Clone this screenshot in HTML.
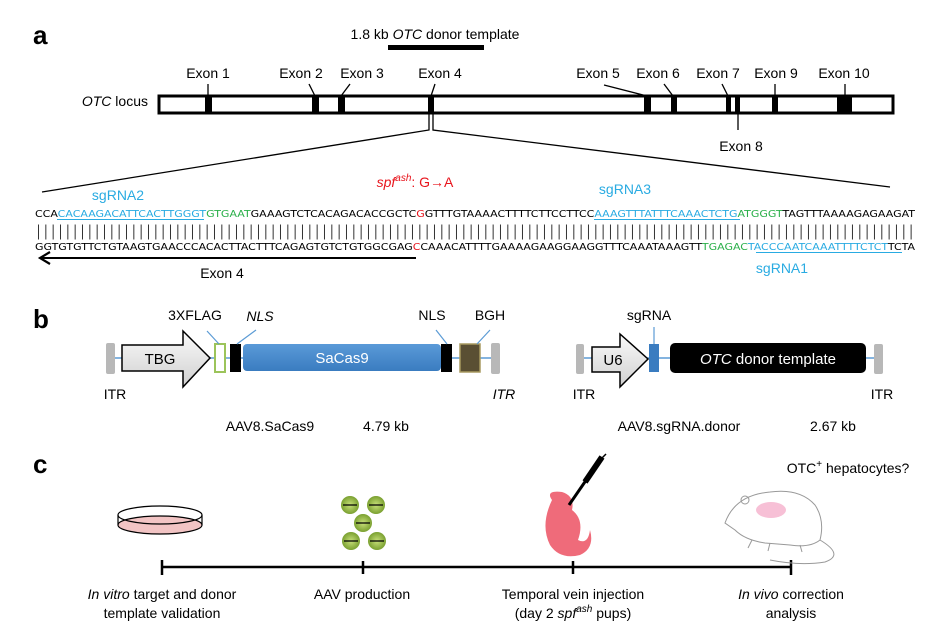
<!DOCTYPE html>
<html><head><meta charset="utf-8"><style>
html,body{margin:0;padding:0;background:#fff;}
svg{display:block;font-family:"Liberation Sans",Arial,sans-serif;}
</style></head><body>
<svg width="929" height="643" viewBox="0 0 929 643" xmlns="http://www.w3.org/2000/svg">
<defs>
<linearGradient id="ag" x1="0" y1="0" x2="0" y2="1"><stop offset="0" stop-color="#fafafa"/><stop offset="1" stop-color="#d0d0d0"/></linearGradient>
<linearGradient id="bg" x1="0" y1="0" x2="0" y2="1"><stop offset="0" stop-color="#5a9ad8"/><stop offset="1" stop-color="#3a7cc0"/></linearGradient>
<radialGradient id="gg"><stop offset="0" stop-color="#c8e07a"/><stop offset="1" stop-color="#7aa030"/></radialGradient>
</defs>
<!-- panel a -->
<text x="33" y="44" font-size="26" font-weight="bold">a</text>
<text x="435" y="39" font-size="14" text-anchor="middle">1.8 kb <tspan font-style="italic">OTC</tspan> donor template</text>
<rect x="388" y="45" width="96" height="5" fill="#000"/>
<text x="148" y="106" font-size="14" text-anchor="end"><tspan font-style="italic">OTC</tspan> locus</text>
<rect x="159" y="96" width="734" height="17" fill="#fff" stroke="#000" stroke-width="3"/>
<g fill="#000">
<rect x="205" y="96" width="7" height="17"/><rect x="312" y="96" width="7" height="17"/><rect x="338" y="96" width="7" height="17"/>
<rect x="428" y="96" width="6" height="17"/><rect x="644" y="96" width="7" height="17"/><rect x="671" y="96" width="6" height="17"/>
<rect x="726" y="96" width="5" height="17"/><rect x="735" y="96" width="5" height="17"/><rect x="772" y="96" width="6" height="17"/>
<rect x="837" y="96" width="15" height="17"/>
</g>
<g font-size="14" text-anchor="middle">
<text x="208" y="78">Exon 1</text><text x="301" y="78">Exon 2</text><text x="362" y="78">Exon 3</text><text x="440" y="78">Exon 4</text>
<text x="598" y="78">Exon 5</text><text x="658" y="78">Exon 6</text><text x="718" y="78">Exon 7</text><text x="776" y="78">Exon 9</text><text x="844" y="78">Exon 10</text>
<text x="741" y="151">Exon 8</text>
</g>
<g stroke="#000" stroke-width="1.3" fill="none">
<line x1="208" y1="84" x2="208" y2="96"/><line x1="309" y1="84" x2="315" y2="96"/><line x1="350" y1="84" x2="341" y2="96"/><line x1="435" y1="84" x2="431" y2="96"/>
<line x1="604" y1="85" x2="647" y2="96"/><line x1="664" y1="84" x2="673" y2="96"/><line x1="722" y1="84" x2="728" y2="96"/><line x1="775" y1="84" x2="775" y2="96"/><line x1="845" y1="84" x2="845" y2="96"/>
<line x1="738" y1="113" x2="738" y2="130"/>
<polyline points="429,114 429,130 42,192"/><polyline points="433,114 433,130 890,187"/>
</g>
<text x="415" y="187" font-size="14" fill="#e8141c" text-anchor="middle"><tspan font-style="italic">spf</tspan><tspan font-style="italic" font-size="10" dy="-6">ash</tspan><tspan dy="6">: G→A</tspan></text>
<g font-size="14" fill="#29abe2" text-anchor="middle">
<text x="118" y="200">sgRNA2</text><text x="625" y="194">sgRNA3</text><text x="782" y="273">sgRNA1</text>
</g>
<g font-family="'DejaVu Sans',sans-serif" font-size="10">
<text x="35" y="217" textLength="880" lengthAdjust="spacingAndGlyphs">CCA<tspan fill="#29abe2">CACAAGACATTCACTTGGGT</tspan><tspan fill="#2bb04a">GTGAAT</tspan>GAAAGTCTCACAGACACCGCTC<tspan fill="#e8141c">G</tspan>GTTTGTAAAACTTTTCTTCCTTCC<tspan fill="#29abe2">AAAGTTTATTTCAAACTCTG</tspan><tspan fill="#2bb04a">ATGGGT</tspan>TAGTTTAAAAGAGAAGAT</text>
<text x="35" y="250" textLength="880" lengthAdjust="spacingAndGlyphs">GGTGTGTTCTGTAAGTGAACCCACACTTACTTTCAGAGTGTCTGTGGCGAG<tspan fill="#e8141c">C</tspan>CAAACATTTTGAAAAGAAGGAAGGTTTCAAATAAAGTT<tspan fill="#2bb04a">TGAGAC</tspan><tspan fill="#29abe2">TACCCAATCAAATTTTCTCT</tspan>TCTA</text>
</g>
<g stroke="#29abe2" stroke-width="1"><line x1="57" y1="219.5" x2="204" y2="219.5"/><line x1="594" y1="219.5" x2="740" y2="219.5"/><line x1="756" y1="252.5" x2="902" y2="252.5"/></g>
<line x1="38" y1="232" x2="915" y2="232" stroke="#333" stroke-width="15" stroke-dasharray="1 6.333"/>
<line x1="42" y1="258" x2="416" y2="258" stroke="#000" stroke-width="2"/>
<polyline points="50,252 40,258 50,264" fill="none" stroke="#000" stroke-width="2.2"/>
<text x="222" y="278" font-size="14" text-anchor="middle">Exon 4</text>
<!-- panel b -->
<text x="33" y="328" font-size="26" font-weight="bold">b</text>
<line x1="110" y1="358" x2="496" y2="358" stroke="#5b9bd5" stroke-width="1.5"/>
<rect x="106" y="343" width="9" height="31" rx="2" fill="#b8b8b8"/>
<rect x="491" y="343" width="9" height="31" rx="2" fill="#b8b8b8"/>
<path d="M122 345 H183 V331 L210 358 L183 387 V371 H122 Z" fill="url(#ag)" stroke="#000" stroke-width="1.5"/>
<text x="160" y="364" font-size="15" text-anchor="middle">TBG</text>
<rect x="215" y="344" width="10" height="28" fill="#fff" stroke="#9cc45a" stroke-width="2"/>
<rect x="230" y="344" width="11" height="28" fill="#000"/>
<rect x="243" y="344" width="198" height="27" rx="4" fill="url(#bg)"/>
<text x="342" y="363" font-size="15" fill="#fff" text-anchor="middle">SaCas9</text>
<rect x="441" y="344" width="11" height="28" fill="#000"/>
<rect x="460" y="344" width="20" height="28" fill="#5a4f33" stroke="#a89a60" stroke-width="1.5"/>
<g stroke="#5b9bd5" stroke-width="1.2"><line x1="207" y1="331" x2="219" y2="344"/><line x1="256" y1="330" x2="237" y2="344"/><line x1="436" y1="330" x2="447" y2="344"/><line x1="490" y1="330" x2="477" y2="344"/><line x1="654" y1="327" x2="654" y2="344"/></g>
<g font-size="14">
<text x="195" y="320" text-anchor="middle">3XFLAG</text><text x="260" y="321" text-anchor="middle" font-style="italic">NLS</text>
<text x="432" y="320" text-anchor="middle">NLS</text><text x="490" y="320" text-anchor="middle">BGH</text>
<text x="115" y="399" text-anchor="middle">ITR</text><text x="504" y="399" text-anchor="middle" font-style="italic">ITR</text>
<text x="270" y="431" text-anchor="middle">AAV8.SaCas9</text><text x="386" y="431" text-anchor="middle">4.79 kb</text>
<text x="649" y="320" text-anchor="middle">sgRNA</text>
<text x="584" y="399" text-anchor="middle">ITR</text><text x="882" y="399" text-anchor="middle">ITR</text>
<text x="679" y="431" text-anchor="middle">AAV8.sgRNA.donor</text><text x="833" y="431" text-anchor="middle">2.67 kb</text>
</g>
<line x1="580" y1="358" x2="880" y2="358" stroke="#5b9bd5" stroke-width="1.5"/>
<rect x="576" y="344" width="8" height="30" rx="2" fill="#b8b8b8"/>
<rect x="874" y="344" width="9" height="30" rx="2" fill="#b8b8b8"/>
<path d="M592 347 H620 V334 L648 359 L620 387 V372 H592 Z" fill="url(#ag)" stroke="#000" stroke-width="1.5"/>
<text x="613" y="365" font-size="15" text-anchor="middle">U6</text>
<rect x="649" y="344" width="10" height="28" fill="#3a7cc0"/>
<rect x="670" y="343" width="196" height="30" rx="5" fill="#000"/>
<text x="768" y="364" font-size="15" fill="#fff" text-anchor="middle"><tspan font-style="italic">OTC</tspan> donor template</text>
<!-- panel c -->
<text x="33" y="473" font-size="26" font-weight="bold">c</text>
<line x1="162" y1="567" x2="792" y2="567" stroke="#000" stroke-width="2.5"/>
<g stroke="#000" stroke-width="2.5"><line x1="162" y1="560" x2="162" y2="575"/><line x1="363" y1="561" x2="363" y2="574"/><line x1="573" y1="561" x2="573" y2="574"/><line x1="791" y1="560" x2="791" y2="575"/></g>
<g font-size="14" text-anchor="middle">
<text x="162" y="599"><tspan font-style="italic">In vitro</tspan> target and donor</text><text x="162" y="618">template validation</text>
<text x="362" y="599">AAV production</text>
<text x="573" y="599">Temporal vein injection</text>
<text x="573" y="618">(day 2 <tspan font-style="italic">spf</tspan><tspan font-style="italic" font-size="10" dy="-6">ash</tspan><tspan dy="6"> pups)</tspan></text>
<text x="791" y="599"><tspan font-style="italic">In vivo</tspan> correction</text><text x="791" y="618">analysis</text>
<text x="848" y="473">OTC<tspan font-size="10" dy="-6">+</tspan><tspan dy="6"> hepatocytes?</tspan></text>
</g>
<!-- dish -->
<ellipse cx="160" cy="525" rx="42" ry="9" fill="#f2c4c4" stroke="#000" stroke-width="1.2"/>
<path d="M118 515 V525 M202 515 V525" stroke="#000" stroke-width="1.2"/>
<ellipse cx="160" cy="515" rx="42" ry="9" fill="none" stroke="#000" stroke-width="1.2"/>
<!-- AAV -->
<g>
<circle cx="350" cy="505" r="9" fill="url(#gg)"/><circle cx="376" cy="505" r="9" fill="url(#gg)"/><circle cx="363" cy="523" r="9" fill="url(#gg)"/><circle cx="351" cy="541" r="9" fill="url(#gg)"/><circle cx="377" cy="541" r="9" fill="url(#gg)"/>
<g stroke="#000" stroke-width="1.3"><path d="M343 505h14M369 505h14M356 523h14M344 541h14M370 541h14"/></g>
</g>
<!-- pup -->
<path d="M552 500 Q545 490 562 492 Q575 496 572 510 Q585 520 578 540 Q588 545 590 530 Q595 548 580 555 Q560 560 550 545 Q540 525 552 500 Z" fill="#ef6b7a"/>
<line x1="569" y1="505" x2="600" y2="460" stroke="#000" stroke-width="3"/>
<line x1="585" y1="482" x2="602" y2="457" stroke="#000" stroke-width="6"/>
<line x1="600" y1="460" x2="606" y2="454" stroke="#000" stroke-width="1.5"/>
<!-- mouse -->
<g fill="none" stroke="#999" stroke-width="1">
<path d="M725 523 Q735 495 770 492 Q800 488 815 505 Q825 520 820 540 Q810 548 790 545 L765 543 Q745 540 735 530 Z" fill="#fff"/>
<ellipse cx="771" cy="510" rx="15" ry="8" fill="#f7c0d6" stroke="none"/>
<path d="M820 540 Q845 555 825 562 Q800 566 770 560"/>
<path d="M752 540 l-4 8 M770 543 l-2 8 M800 545 l2 7"/>
<circle cx="745" cy="500" r="4"/>
</g>
</svg>
</body></html>
